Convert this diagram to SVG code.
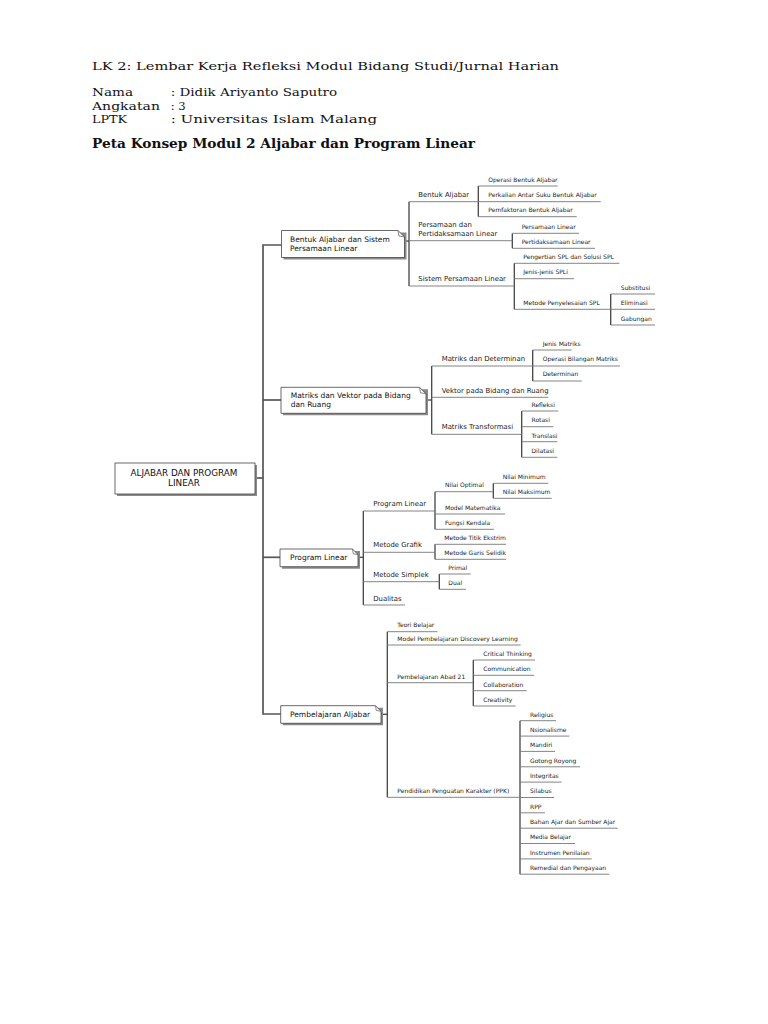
<svg xmlns="http://www.w3.org/2000/svg" width="768" height="1024" viewBox="0 0 768 1024">
<defs>
<style>
.hd{font-family:"DejaVu Serif","Liberation Serif",serif;font-size:11.6px;fill:#111}
.hb{font-family:"DejaVu Serif","Liberation Serif",serif;font-size:12.5px;font-weight:bold;fill:#111}
text.l2{font-family:"DejaVu Sans","Noto Sans",sans-serif;font-size:6.9px;fill:#222}
text.l3{font-family:"DejaVu Sans","Noto Sans",sans-serif;font-size:6px;fill:#222}
text.bx{font-family:"DejaVu Sans","Noto Sans",sans-serif;font-size:7.5px;fill:#111}
text.rt{font-family:"DejaVu Sans","Noto Sans",sans-serif;font-size:8.8px;fill:#111;text-anchor:middle}
.ul{stroke:#777;stroke-width:0.9;fill:none}
.vl{stroke:#444;stroke-width:1.3;fill:none}
.tr{stroke:#555;stroke-width:1.7;fill:none}
.box{fill:#fff;stroke:#444;stroke-width:0.8}
.sh{fill:#8a8a8a}
.fold{fill:none;stroke:#555;stroke-width:0.7}
</style>
</defs>
<rect width="768" height="1024" fill="#fff"/>

<g id="header">
<text class="hd" x="92" y="69.5" textLength="467" lengthAdjust="spacingAndGlyphs">LK 2: Lembar Kerja Refleksi Modul Bidang Studi/Jurnal Harian</text>
<text class="hd" x="92" y="96" textLength="41" lengthAdjust="spacingAndGlyphs">Nama</text>
<text class="hd" x="170.7" y="96" textLength="166.5" lengthAdjust="spacingAndGlyphs">: Didik Ariyanto Saputro</text>
<text class="hd" x="92" y="109.5" textLength="68" lengthAdjust="spacingAndGlyphs">Angkatan</text>
<text class="hd" x="170.7" y="109.5">: 3</text>
<text class="hd" x="92" y="122.5" textLength="35" lengthAdjust="spacingAndGlyphs">LPTK</text>
<text class="hd" x="170.7" y="122.5" textLength="206.5" lengthAdjust="spacingAndGlyphs">: Universitas Islam Malang</text>
<text class="hb" x="92" y="148" textLength="383" lengthAdjust="spacingAndGlyphs">Peta Konsep Modul 2 Aljabar dan Program Linear</text>
</g>

<g id="connectors">
<line class="tr" x1="255" y1="478" x2="263" y2="478"/>
<polyline class="tr" points="281.5,245 263,245 263,714 281,714"/>
<line class="tr" x1="263" y1="400" x2="281" y2="400"/>
<line class="tr" x1="263" y1="557.3" x2="280" y2="557.3"/>
<line class="vl" x1="404" y1="241" x2="409" y2="241"/>
<line class="vl" x1="426" y1="400" x2="431.7" y2="400"/>
<line class="vl" x1="358" y1="557.3" x2="363.3" y2="557.3"/>
<line class="vl" x1="381" y1="714.3" x2="387.3" y2="714.3"/>
<line class="vl" x1="409" y1="201.7" x2="409" y2="286"/>
<line class="vl" x1="431.7" y1="366" x2="431.7" y2="434.3"/>
<line class="vl" x1="363.3" y1="511" x2="363.3" y2="605"/>
<line class="vl" x1="387.3" y1="631.7" x2="387.3" y2="797.3"/>
<line class="vl" x1="478.3" y1="186" x2="478.3" y2="216.7"/>
<line class="vl" x1="512.3" y1="233.3" x2="512.3" y2="248.3"/>
<line class="vl" x1="514.3" y1="263.3" x2="514.3" y2="309.3"/>
<line class="vl" x1="610.7" y1="294" x2="610.7" y2="325"/>
<line class="vl" x1="532.7" y1="350" x2="532.7" y2="381"/>
<line class="vl" x1="521.7" y1="411" x2="521.7" y2="457.3"/>
<line class="vl" x1="435" y1="491.7" x2="435" y2="529.3"/>
<line class="vl" x1="493.3" y1="483.3" x2="493.3" y2="498.3"/>
<line class="vl" x1="435" y1="544.3" x2="435" y2="559.3"/>
<line class="vl" x1="439.3" y1="574" x2="439.3" y2="589.3"/>
<line class="vl" x1="473.3" y1="660" x2="473.3" y2="706"/>
<line class="vl" x1="520" y1="720.7" x2="520" y2="874.3"/>
</g>

<g id="root">
<rect class="sh" x="117" y="465" width="140" height="31"/>
<rect class="box" x="115" y="463" width="140" height="31"/>
<text class="rt" x="184" y="475.5">ALJABAR DAN PROGRAM</text>
<text class="rt" x="184" y="485.5">LINEAR</text>
</g>

<g id="n1">
<path class="sh" d="M283.5,232.5 H406.5 V259.5 H283.5 Z"/>
<path class="box" d="M281.5,230.5 H398 L404.5,237 V257.5 H281.5 Z"/>
<polyline class="fold" points="398,230.5 399,236 404.5,237"/>
<text class="bx" x="290" y="241.5">Bentuk Aljabar dan Sistem</text>
<text class="bx" x="290" y="251">Persamaan Linear</text>
</g>
<g id="n1-1"><line class="ul" x1="409" y1="201.7" x2="478.3" y2="201.7"/><text class="l2" x="418.3" y="197.3">Bentuk Aljabar</text></g>
<g id="n1-1-1"><line class="ul" x1="478.3" y1="186" x2="557.7" y2="186"/><text class="l3" x="488.3" y="181.7">Operasi Bentuk Aljabar</text></g>
<g id="n1-1-2"><line class="ul" x1="478.3" y1="201.7" x2="600.7" y2="201.7"/><text class="l3" x="488.3" y="197">Perkalian Antar Suku Bentuk Aljabar</text></g>
<g id="n1-1-3"><line class="ul" x1="478.3" y1="216.7" x2="576.7" y2="216.7"/><text class="l3" x="488.3" y="212.3">Pemfaktoran Bentuk Aljabar</text></g>
<g id="n1-2"><line class="ul" x1="409" y1="240.7" x2="512.3" y2="240.7"/><text class="l2" x="418.3" y="227.3">Persamaan dan</text><text class="l2" x="418.3" y="236">Pertidaksamaan Linear</text></g>
<g id="n1-2-1"><line class="ul" x1="512.3" y1="233.3" x2="579" y2="233.3"/><text class="l3" x="521.7" y="228.7">Persamaan Linear</text></g>
<g id="n1-2-2"><line class="ul" x1="512.3" y1="248.3" x2="595" y2="248.3"/><text class="l3" x="521.7" y="244">Pertidaksamaan Linear</text></g>
<g id="n1-3"><line class="ul" x1="409" y1="286" x2="514.3" y2="286"/><text class="l2" x="418.3" y="280.7">Sistem Persamaan Linear</text></g>
<g id="n1-3-1"><line class="ul" x1="514.3" y1="263.3" x2="619.3" y2="263.3"/><text class="l3" x="523.3" y="259">Pengertian SPL dan Solusi SPL</text></g>
<g id="n1-3-2"><line class="ul" x1="514.3" y1="278.7" x2="574" y2="278.7"/><text class="l3" x="523.3" y="274.3">Jenis-jenis SPLi</text></g>
<g id="n1-3-3"><line class="ul" x1="514.3" y1="309.3" x2="610.7" y2="309.3"/><text class="l3" x="523.3" y="304.7">Metode Penyelesaian SPL</text></g>
<g id="n1-3-3-1"><line class="ul" x1="610.7" y1="294" x2="655" y2="294"/><text class="l3" x="620.7" y="289.5">Substitusi</text></g>
<g id="n1-3-3-2"><line class="ul" x1="610.7" y1="309.3" x2="655" y2="309.3"/><text class="l3" x="620.7" y="305">Eliminasi</text></g>
<g id="n1-3-3-3"><line class="ul" x1="610.7" y1="325" x2="655" y2="325"/><text class="l3" x="620.7" y="320.5">Gabungan</text></g>

<g id="n2">
<path class="sh" d="M283,389.3 H428 V415.3 H283 Z"/>
<path class="box" d="M281,387.3 H419.5 L426,393.8 V413.3 H281 Z"/>
<polyline class="fold" points="419.5,387.3 420.5,392.8 426,393.8"/>
<text class="bx" x="290.7" y="397.7">Matriks dan Vektor pada Bidang</text>
<text class="bx" x="290.7" y="407.3">dan Ruang</text>
</g>
<g id="n2-1"><line class="ul" x1="431.7" y1="366" x2="532.7" y2="366"/><text class="l2" x="441.7" y="361.3">Matriks dan Determinan</text></g>
<g id="n2-1-1"><line class="ul" x1="532.7" y1="350" x2="571.7" y2="350"/><text class="l3" x="542.7" y="345.7">Jenis Matriks</text></g>
<g id="n2-1-2"><line class="ul" x1="532.7" y1="366" x2="620" y2="366"/><text class="l3" x="542.7" y="361">Operasi Bilangan Matriks</text></g>
<g id="n2-1-3"><line class="ul" x1="532.7" y1="381" x2="581.7" y2="381"/><text class="l3" x="542.7" y="376.3">Determinan</text></g>
<g id="n2-2"><line class="ul" x1="431.7" y1="397.3" x2="548.3" y2="397.3"/><text class="l2" x="441.7" y="392.5">Vektor pada Bidang dan Ruang</text></g>
<g id="n2-3"><line class="ul" x1="431.7" y1="434.3" x2="521.7" y2="434.3"/><text class="l2" x="441.7" y="429.3">Matriks Transformasi</text></g>
<g id="n2-3-1"><line class="ul" x1="521.7" y1="411" x2="558.3" y2="411"/><text class="l3" x="531.5" y="406.7">Refleksi</text></g>
<g id="n2-3-2"><line class="ul" x1="521.7" y1="426.7" x2="553.3" y2="426.7"/><text class="l3" x="531.5" y="422.3">Rotasi</text></g>
<g id="n2-3-3"><line class="ul" x1="521.7" y1="441.7" x2="557.3" y2="441.7"/><text class="l3" x="531.5" y="437.5">Translasi</text></g>
<g id="n2-3-4"><line class="ul" x1="521.7" y1="457.3" x2="557.3" y2="457.3"/><text class="l3" x="531.5" y="453">Dilatasi</text></g>

<g id="n3">
<path class="sh" d="M282,551 H360 V568.7 H282 Z"/>
<path class="box" d="M280,549 H352.5 L358,554.5 V566.7 H280 Z"/>
<polyline class="fold" points="352.5,549 353.3,553.8 358,554.5"/>
<text class="bx" x="290" y="560.3">Program Linear</text>
</g>
<g id="n3-1"><line class="ul" x1="363.3" y1="511" x2="435" y2="511"/><text class="l2" x="373.3" y="506">Program Linear</text></g>
<g id="n3-1-1"><line class="ul" x1="435" y1="491.7" x2="493.3" y2="491.7"/><text class="l3" x="445" y="487">Nilai Optimal</text></g>
<g id="n3-1-1-1"><line class="ul" x1="493.3" y1="483.3" x2="548.3" y2="483.3"/><text class="l3" x="502.7" y="479">Nilai Minimum</text></g>
<g id="n3-1-1-2"><line class="ul" x1="493.3" y1="498.3" x2="551.7" y2="498.3"/><text class="l3" x="502.7" y="494.3">Nilai Maksimum</text></g>
<g id="n3-1-2"><line class="ul" x1="435" y1="514" x2="505" y2="514"/><text class="l3" x="445" y="509.5">Model Matematika</text></g>
<g id="n3-1-3"><line class="ul" x1="435" y1="529.3" x2="494" y2="529.3"/><text class="l3" x="445" y="525">Fungsi Kendala</text></g>
<g id="n3-2"><line class="ul" x1="363.3" y1="552.3" x2="435" y2="552.3"/><text class="l2" x="373.3" y="546.7">Metode Grafik</text></g>
<g id="n3-2-1"><line class="ul" x1="435" y1="544.3" x2="506" y2="544.3"/><text class="l3" x="444.3" y="540">Metode Titik Ekstrim</text></g>
<g id="n3-2-2"><line class="ul" x1="435" y1="559.3" x2="506" y2="559.3"/><text class="l3" x="444.3" y="555">Metode Garis Selidik</text></g>
<g id="n3-3"><line class="ul" x1="363.3" y1="581.7" x2="439.3" y2="581.7"/><text class="l2" x="373.3" y="576.7">Metode Simplek</text></g>
<g id="n3-3-1"><line class="ul" x1="439.3" y1="574" x2="470.7" y2="574"/><text class="l3" x="448.3" y="569.5">Primal</text></g>
<g id="n3-3-2"><line class="ul" x1="439.3" y1="589.3" x2="466" y2="589.3"/><text class="l3" x="448.3" y="584.7">Dual</text></g>
<g id="n3-4"><line class="ul" x1="363.3" y1="605" x2="405" y2="605"/><text class="l2" x="373.3" y="600.7">Dualitas</text></g>

<g id="n4">
<path class="sh" d="M282.7,707.7 H383 V725.3 H282.7 Z"/>
<path class="box" d="M280.7,705.7 H375.5 L381,711.2 V723.3 H280.7 Z"/>
<polyline class="fold" points="375.5,705.7 376.3,710.5 381,711.2"/>
<text class="bx" x="290" y="717">Pembelajaran Aljabar</text>
</g>
<g id="n4-1"><line class="ul" x1="387.3" y1="631.7" x2="437.3" y2="631.7"/><text class="l3" x="397.3" y="626.5">Teori Belajar</text></g>
<g id="n4-2"><line class="ul" x1="387.3" y1="645" x2="520.7" y2="645"/><text class="l3" x="397.3" y="641.3">Model Pembelajaran Discovery Learning</text></g>
<g id="n4-3"><line class="ul" x1="387.3" y1="682.7" x2="473.3" y2="682.7"/><text class="l3" x="397.3" y="678.5">Pembelajaran Abad 21</text></g>
<g id="n4-3-1"><line class="ul" x1="473.3" y1="660" x2="535" y2="660"/><text class="l3" x="483.3" y="655.7">Critical Thinking</text></g>
<g id="n4-3-2"><line class="ul" x1="473.3" y1="675.3" x2="534" y2="675.3"/><text class="l3" x="483.3" y="671">Communication</text></g>
<g id="n4-3-3"><line class="ul" x1="473.3" y1="690.7" x2="526.7" y2="690.7"/><text class="l3" x="483.3" y="686.5">Collaboration</text></g>
<g id="n4-3-4"><line class="ul" x1="473.3" y1="706" x2="515.7" y2="706"/><text class="l3" x="483.3" y="701.7">Creativity</text></g>
<g id="n4-4"><line class="ul" x1="387.3" y1="797.3" x2="520" y2="797.3"/><text class="l3" x="397.3" y="793.3">Pendidikan Penguatan Karakter (PPK)</text></g>
<g id="n4-4-1"><line class="ul" x1="520" y1="720.7" x2="556" y2="720.7"/><text class="l3" x="530" y="716.5">Religius</text></g>
<g id="n4-4-2"><line class="ul" x1="520" y1="736.1" x2="569.3" y2="736.1"/><text class="l3" x="530" y="732">Nsionalisme</text></g>
<g id="n4-4-3"><line class="ul" x1="520" y1="751.4" x2="555" y2="751.4"/><text class="l3" x="530" y="747.3">Mandiri</text></g>
<g id="n4-4-4"><line class="ul" x1="520" y1="766.8" x2="580" y2="766.8"/><text class="l3" x="530" y="762.7">Gotong Royong</text></g>
<g id="n4-4-5"><line class="ul" x1="520" y1="782.1" x2="561.7" y2="782.1"/><text class="l3" x="530" y="778">Integritas</text></g>
<g id="n4-4-6"><line class="ul" x1="520" y1="797.5" x2="554" y2="797.5"/><text class="l3" x="530" y="793.4">Silabus</text></g>
<g id="n4-4-7"><line class="ul" x1="520" y1="812.8" x2="545" y2="812.8"/><text class="l3" x="530" y="808.7">RPP</text></g>
<g id="n4-4-8"><line class="ul" x1="520" y1="828.2" x2="617.7" y2="828.2"/><text class="l3" x="530" y="824.1">Bahan Ajar dan Sumber Ajar</text></g>
<g id="n4-4-9"><line class="ul" x1="520" y1="843.5" x2="575" y2="843.5"/><text class="l3" x="530" y="839.4">Media Belajar</text></g>
<g id="n4-4-10"><line class="ul" x1="520" y1="858.9" x2="591.7" y2="858.9"/><text class="l3" x="530" y="854.8">Instrumen Penilaian</text></g>
<g id="n4-4-11"><line class="ul" x1="520" y1="874.2" x2="609.3" y2="874.2"/><text class="l3" x="530" y="870.1">Remedial dan Pengayaan</text></g>
</svg>
